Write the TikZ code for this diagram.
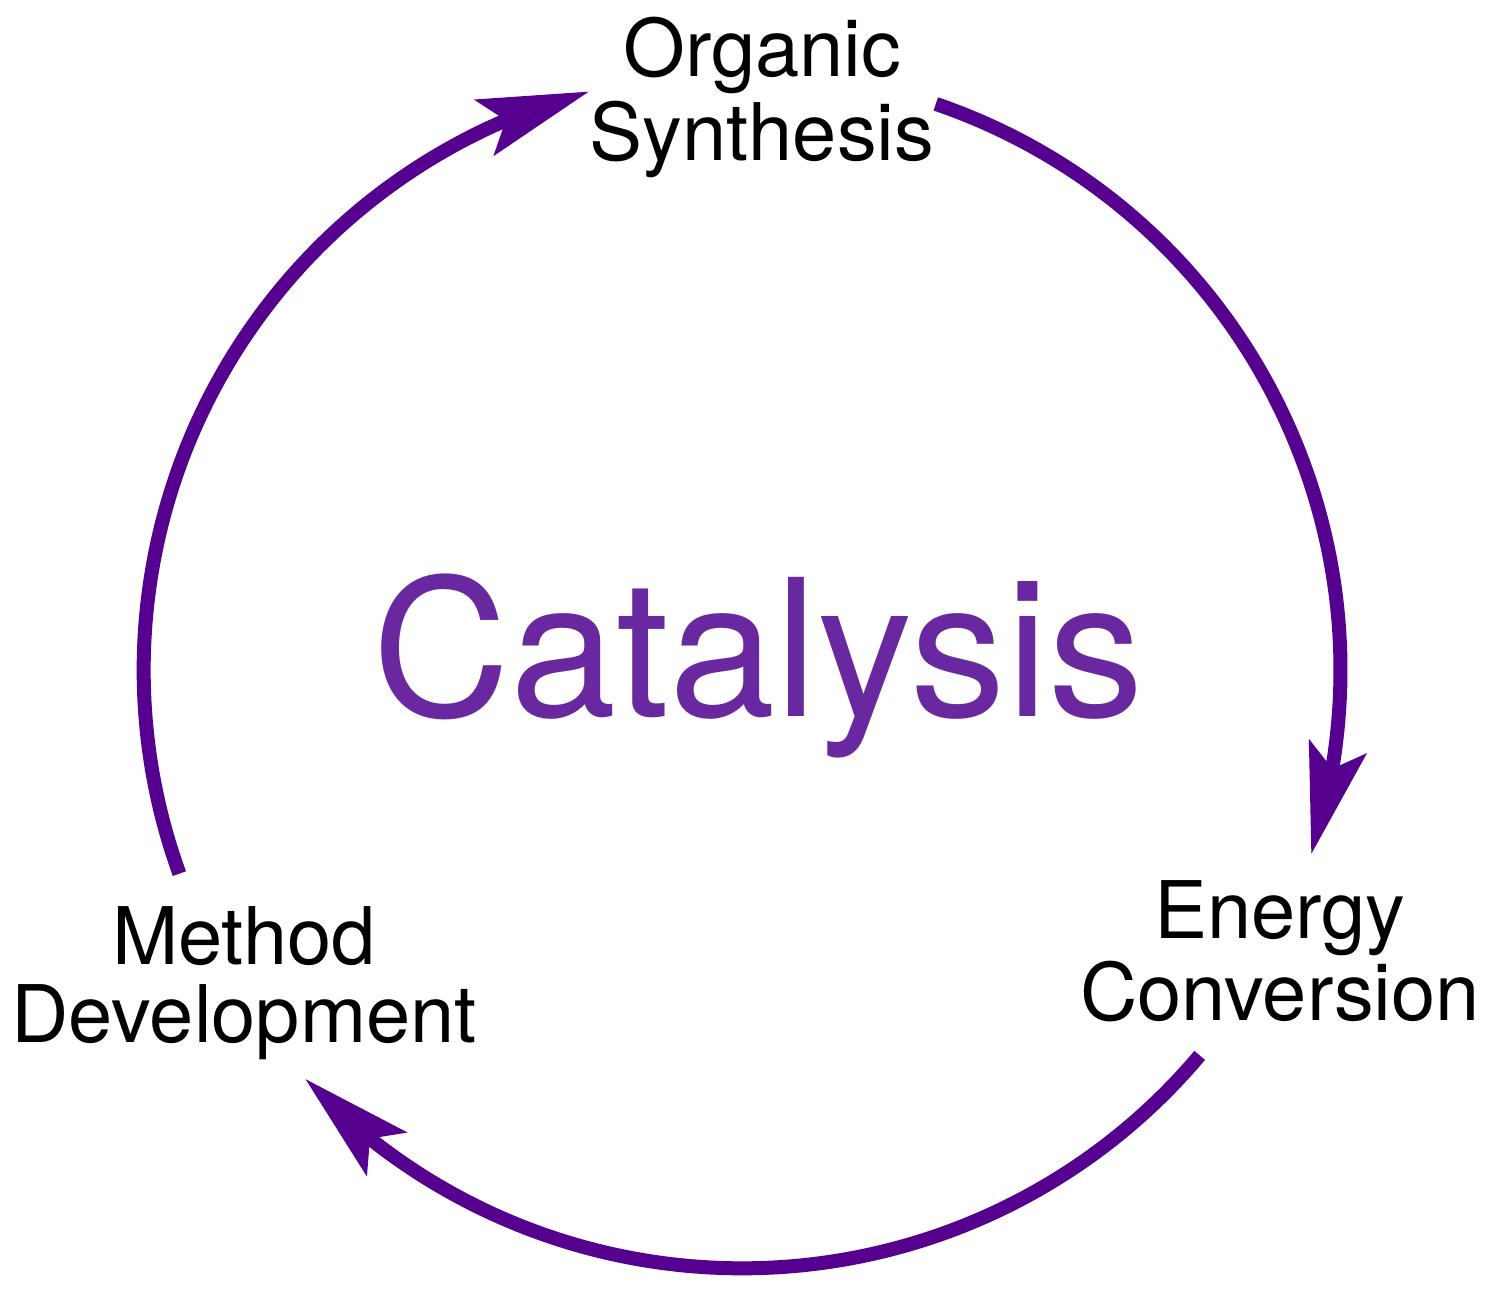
\documentclass[tikz,border=0pt]{standalone}
\usepackage{fontspec}
\setmainfont{TeX Gyre Heros}
\usetikzlibrary{arrows.meta,bending}
\definecolor{arrowpurple}{RGB}{85,0,143}
\definecolor{catpurple}{RGB}{106,40,160}
\begin{document}
\begin{tikzpicture}[x=0.01cm,y=0.01cm,
  cycle/.style={draw=arrowpurple, line width=1.4mm, -{Stealth[length=11mm,width=5.8mm,inset=2.2mm]}},
  lbl/.style={align=center, inner sep=0pt, text=black, anchor=base},
]
\useasboundingbox (0,0) rectangle (1500,1294);
\coordinate (c) at (742,624);
\node[lbl, font=\fontsize{22.6}{23.9}\selectfont] (os) at (762,1133) {Organic\\Synthesis};
\node[lbl, font=\fontsize{22.6}{23.6}\selectfont] (ec) at (1280,273) {Energy\\Conversion};
\node[lbl, font=\fontsize{22.6}{22.2}\selectfont] (md) at (244,251) {Method\\Development};
\node[lbl, font=\fontsize{54.3}{60}\selectfont, text=catpurple] (cat) at (758,577) {Catalysis};
\path (c) ++(199.9:5.98cm) coordinate (a1s);
\path (c) ++(71.1:5.98cm) coordinate (a2s);
\path (c) ++(-40.1:5.98cm) coordinate (a3s);
\draw[cycle] (a1s) arc[start angle=199.9, end angle=104.8, radius=5.98cm];
\draw[cycle] (a2s) arc[start angle=71.1, end angle=-17.95, radius=5.98cm];
\draw[cycle] (a3s) arc[start angle=-40.1, end angle=-136.9, radius=5.98cm];
\end{tikzpicture}
\end{document}
